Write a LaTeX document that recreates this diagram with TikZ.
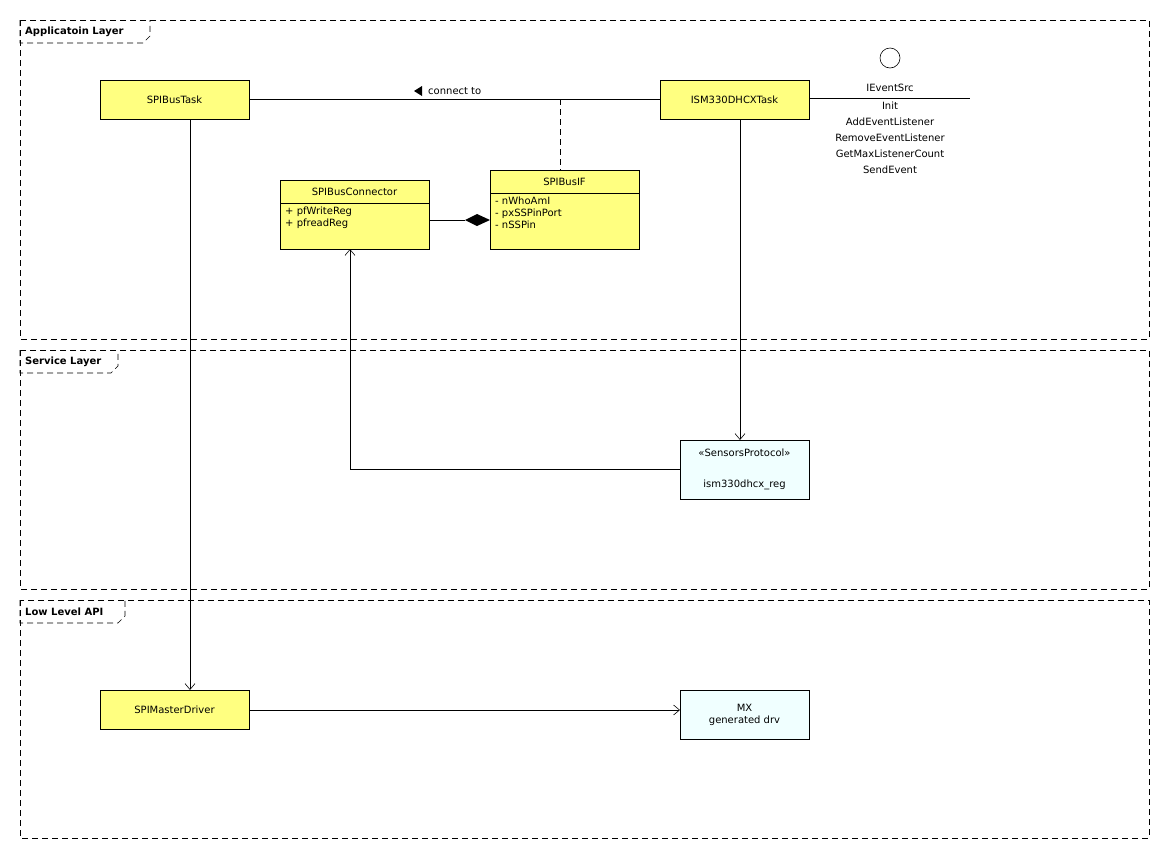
\documentclass[tikz,border=0pt]{standalone}
\usepackage{fontspec}
\setmainfont{DejaVu Sans}
\usetikzlibrary{arrows.meta}
\definecolor{clsfill}{HTML}{FFFF80}
\definecolor{libfill}{HTML}{F0FFFF}
\begin{document}
\begin{tikzpicture}[x=1pt,y=-1pt,
  every node/.style={font=\fontsize{10}{12}\selectfont, inner sep=0pt},
  frame/.style={dashed, dash pattern=on 6pt off 4pt, line width=0.6pt},
  box/.style={draw, fill=clsfill, line width=0.6pt},
  lib/.style={draw, fill=libfill, line width=0.6pt},
  conn/.style={line width=0.6pt},
  open/.style={-{Straight Barb[length=6pt,width=10pt]}}]
\useasboundingbox (0,0) rectangle (1170,860);
% layer frames
\draw[frame] (20,20) rectangle (1149,339);
\draw[frame] (20,20) -- (20,43) -- (143,43) -- (150,36) -- (150,20);
\node[anchor=west,font=\fontsize{10}{12}\selectfont\bfseries] at (25,32) {Applicatoin Layer};
\draw[frame] (20,350) rectangle (1149,589);
\draw[frame] (20,350) -- (20,373) -- (111,373) -- (118,366) -- (118,350);
\node[anchor=west,font=\fontsize{10}{12}\selectfont\bfseries] at (25,362) {Service Layer};
\draw[frame] (20,600) rectangle (1149,838);
\draw[frame] (20,600) -- (20,623) -- (118,623) -- (125,616) -- (125,600);
\node[anchor=west,font=\fontsize{10}{12}\selectfont\bfseries] at (25,612) {Low Level API};
% classes
\draw[box] (100,80) rectangle (249,119);
\node (task) at (174.5,99.5) {SPIBusTask};
\coordinate (taskR) at (249,99); \coordinate (taskB) at (190,119);
\draw[box] (660,80) rectangle (809,119);
\node (ism) at (734.5,99.5) {ISM330DHCXTask};
\coordinate (ismL) at (660,99); \coordinate (ismR) at (809,98); \coordinate (ismB) at (740,119);
\draw[box] (280,180) rectangle (429,249);
\draw[conn] (280,203) -- (429,203);
\node (con) at (354.5,191.5) {SPIBusConnector};
\node[anchor=north west, align=left] at (285,207) {+ pfWriteReg\\+ pfreadReg};
\coordinate (conR) at (429,220); \coordinate (conB) at (350,249);
\draw[box] (490,170) rectangle (639,249);
\draw[conn] (490,193) -- (639,193);
\node (busif) at (564.5,181.5) {SPIBusIF};
\node[anchor=north west, align=left] at (495,197) {- nWhoAmI\\- pxSSPinPort\\- nSSPin};
\coordinate (ifL) at (490,220); \coordinate (ifT) at (560,170);
\draw[lib] (680,440) rectangle (809,499);
\node (proto) at (744.5,453) {«SensorsProtocol»};
\node at (744.5,485) {ism330dhcx\_reg};
\coordinate (protoT) at (740,440); \coordinate (protoL) at (680,469);
\draw[box] (100,690) rectangle (249,729);
\node (drv) at (174.5,709.5) {SPIMasterDriver};
\coordinate (drvT) at (190,690); \coordinate (drvR) at (249,710);
\draw[lib] (680,690) rectangle (809,739);
\node[align=center] (mx) at (744.5,714.5) {MX\\generated drv};
\coordinate (mxL) at (680,710);
% connectors
\draw[conn] (taskR) -- (ismL);
\fill (414,91) -- (422,86) -- (422,96) -- cycle;
\node[anchor=west] at (428,91) {connect to};
\draw[conn, dashed, dash pattern=on 6pt off 4pt] (560,99) -- (ifT);
\draw[conn] (conR) -- (465,220);
\fill (465,220) -- (477,214) -- (490,220) -- (477,226) -- cycle;
\draw[conn, open] (ismB) -- (protoT);
\draw[conn, open] (protoL) -- (350,469) -- (conB);
\draw[conn, open] (taskB) -- (drvT);
\draw[conn, open] (drvR) -- (mxL);
% interface lollipop
\draw[conn] (ismR) -- (970,98);
\draw[conn] (890,58) circle (10);
\node at (890,88) {IEventSrc};
\node[align=center, anchor=north, font=\fontsize{10}{16}\selectfont] at (890,102) {Init\\AddEventListener\\RemoveEventListener\\GetMaxListenerCount\\SendEvent};
\end{tikzpicture}
\end{document}
